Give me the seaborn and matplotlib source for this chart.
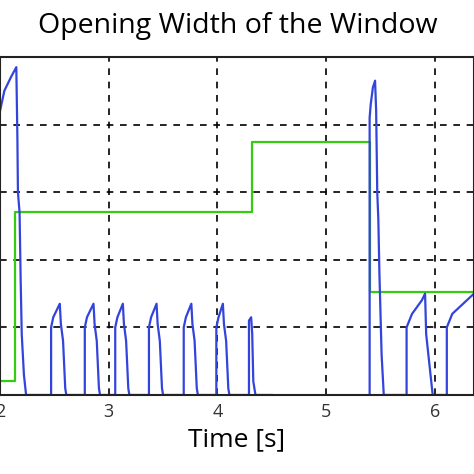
import matplotlib
matplotlib.use("Agg")
import matplotlib.pyplot as plt
import seaborn as sns
import pandas as pd

# green: commanded opening (step signal)
green_t = [1.9, 2.14, 2.14, 4.32, 4.32, 5.40, 5.40, 6.5]
green_v = [0.2, 0.2, 2.71, 2.71, 3.74, 3.74, 1.53, 1.53]

# blue, first segment (2.0 .. 4.5 s)
blue1_t = [2.0, 2.04, 2.10, 2.15, 2.16, 2.165, 2.18, 2.19, 2.20, 2.22, 2.24,
           2.47, 2.47, 2.49, 2.55, 2.56, 2.58, 2.60, 2.61,
           2.78, 2.78, 2.80, 2.86, 2.87, 2.89, 2.91, 2.92,
           3.06, 3.06, 3.08, 3.13, 3.14, 3.16, 3.18, 3.19,
           3.37, 3.37, 3.39, 3.44, 3.45, 3.47, 3.49, 3.50,
           3.69, 3.69, 3.71, 3.76, 3.77, 3.79, 3.81, 3.82,
           3.99, 3.99, 4.01, 4.05, 4.06, 4.08, 4.10, 4.11,
           4.29, 4.29, 4.31, 4.32, 4.33, 4.35, 4.50]
blue1_v = [4.2, 4.5, 4.7, 4.85, 3.8, 3.0, 2.7, 1.7, 0.9, 0.3, 0.0,
           0.0, 1.0, 1.15, 1.35, 1.05, 0.8, 0.1, 0.0,
           0.0, 1.0, 1.15, 1.35, 1.05, 0.8, 0.1, 0.0,
           0.0, 1.0, 1.15, 1.35, 1.05, 0.8, 0.1, 0.0,
           0.0, 1.0, 1.15, 1.35, 1.05, 0.8, 0.1, 0.0,
           0.0, 1.0, 1.15, 1.35, 1.05, 0.8, 0.1, 0.0,
           0.0, 1.0, 1.15, 1.35, 1.05, 0.8, 0.1, 0.0,
           0.0, 1.1, 1.15, 0.9, 0.2, 0.0, 0.0]

# blue, second segment (5.4 s ..)
blue2_t = [5.40, 5.40, 5.41, 5.43, 5.45, 5.46, 5.47, 5.48, 5.49, 5.51, 5.53,
           5.74, 5.74, 5.79, 5.88, 5.91, 5.92, 5.94, 5.98,
           6.11, 6.11, 6.16, 6.36]
blue2_v = [0.0, 4.1, 4.3, 4.55, 4.65, 4.2, 3.0, 2.6, 1.8, 0.6, 0.0,
           0.0, 1.0, 1.2, 1.4, 1.5, 0.9, 0.6, 0.0,
           0.0, 1.0, 1.2, 1.5]

plt.rcParams['font.family'] = ['Open Sans', 'DejaVu Sans']

fig = plt.figure(figsize=(4.74, 4.74), dpi=100)
ax = fig.add_axes([0.0, 0.1667, 1.0, 0.713])
sns.lineplot(x=green_t, y=green_v, ax=ax, color="#33cc11", lw=1.6,
             estimator=None, sort=False)
sns.lineplot(x=blue1_t, y=blue1_v, ax=ax, color="#3344dd", lw=1.6,
             estimator=None, sort=False)
sns.lineplot(x=blue2_t, y=blue2_v, ax=ax, color="#3344dd", lw=1.6,
             estimator=None, sort=False)

ax.set_xlim(2.05, 6.36)
ax.set_ylim(0, 5)
ax.set_xticks([2, 3, 4, 5, 6])
ax.set_yticks([1, 2, 3, 4])
ax.tick_params(axis="y", labelleft=False, length=0)
ax.tick_params(axis="x", labelsize=13, length=0, pad=6, colors="#333333")
ax.grid(True, color="black", linestyle=(0, (4, 4)), lw=1.2)
for s in ax.spines.values():
    s.set_color("#222222")
    s.set_linewidth(1.5)
ax.set_xlabel("Time [s]", fontsize=19, labelpad=4)
fig.text(0.08, 0.945, "Opening Width of the Window", fontsize=20.5,
         ha="left", va="center")
fig.savefig("out.png", dpi=100)
